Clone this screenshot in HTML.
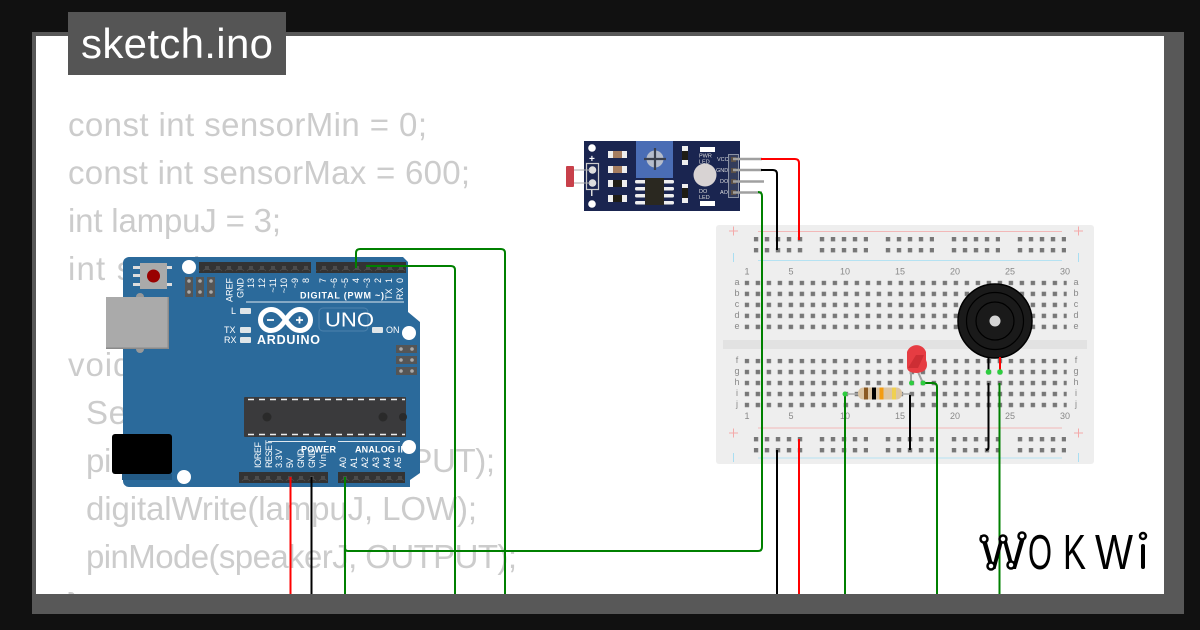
<!DOCTYPE html>
<html><head><meta charset="utf-8"><style>
html,body{margin:0;padding:0;background:#111;width:1200px;height:630px;overflow:hidden}
svg{display:block}
text{font-family:"Liberation Sans",sans-serif}
.c{font-size:33px;fill:#ccc}
.a{font-size:9px;fill:#fff;font-weight:bold}
.n{font-size:9px;fill:#fff}
.t{font-size:9px;fill:#fff;text-anchor:end}
.b{font-size:9px;fill:#888;text-anchor:middle}
.w{fill:none;stroke-width:2;stroke-linejoin:round}
.l{font-size:49px;fill:#000}
</style></head><body>
<svg width="1200" height="630" viewBox="0 0 1200 630" xmlns="http://www.w3.org/2000/svg">
<defs>
<pattern id="h" x="744.7" y="280.7" width="11" height="11" patternUnits="userSpaceOnUse"><rect x="0" y="0" width="4.400" height="4.400" fill="#777"/></pattern>
<pattern id="h2" x="744.7" y="358.8" width="11" height="11" patternUnits="userSpaceOnUse"><rect x="0" y="0" width="4.400" height="4.400" fill="#777"/></pattern>
<pattern id="r" x="753.8" y="237" width="11" height="11" patternUnits="userSpaceOnUse"><rect x="0" y="0" width="4.400" height="4.400" fill="#777"/></pattern>
<pattern id="r2" x="753.8" y="437" width="11" height="11" patternUnits="userSpaceOnUse"><rect x="0" y="0" width="4.400" height="4.400" fill="#777"/></pattern>
<pattern id="p1" x="300" y="262" width="11" height="11" patternUnits="userSpaceOnUse"><rect x="4" y="4" width="4" height="4" fill="#4c4c4c"/><path d="M2 9L4 7M10 9L8 7" stroke="#4c4c4c" stroke-width=".8"/></pattern>
<pattern id="p2" x="318" y="262" width="11" height="11" patternUnits="userSpaceOnUse"><rect x="4" y="4" width="4" height="4" fill="#4c4c4c"/><path d="M2 9L4 7M10 9L8 7" stroke="#4c4c4c" stroke-width=".8"/></pattern>
<pattern id="p3" x="284" y="472" width="11" height="11" patternUnits="userSpaceOnUse"><rect x="4" y="4" width="4" height="4" fill="#4c4c4c"/><path d="M2 9L4 7M10 9L8 7" stroke="#4c4c4c" stroke-width=".8"/></pattern>
<pattern id="p4" x="339" y="472" width="11" height="11" patternUnits="userSpaceOnUse"><rect x="4" y="4" width="4" height="4" fill="#4c4c4c"/><path d="M2 9L4 7M10 9L8 7" stroke="#4c4c4c" stroke-width=".8"/></pattern>
<clipPath id="cl"><rect x="36" y="36" width="1128" height="558"/></clipPath>
</defs>
<rect width="1200" height="630" fill="#111"/>
<rect x="32" y="32" width="1152" height="582" fill="#585858"/>
<rect x="36" y="36" width="1128" height="558" fill="#fff"/>
<rect x="68" y="12" width="218" height="63" fill="#555"/>
<text x="81" y="58" font-size="42" fill="#fff" textLength="192" lengthAdjust="spacing">sketch.ino</text>
<g clip-path="url(#cl)">
<text class="c" x="68" y="136" textLength="359">const int sensorMin = 0;</text>
<text class="c" x="68" y="184" textLength="402">const int sensorMax = 600;</text>
<text class="c" x="68" y="232" textLength="213">int lampuJ = 3;</text>
<text class="c" x="68" y="280" textLength="262">int speakerJ = 5;</text>
<text class="c" x="68" y="376" textLength="205">void setup() {</text>
<text class="c" x="86" y="424" textLength="290">Serial.begin(9600);</text>
<text class="c" x="86" y="472" textLength="409">pinMode(lampuJ, OUTPUT);</text>
<text class="c" x="86" y="520" textLength="391">digitalWrite(lampuJ, LOW);</text>
<text class="c" x="86" y="568" textLength="431">pinMode(speakerJ, OUTPUT);</text>
<text class="c" x="68" y="616">}</text>

<!-- Breadboard -->
<rect x="716" y="225" width="378" height="239" rx="3" fill="#eee"/>
<rect x="723" y="340" width="364" height="9" fill="#e2e2e2"/>
<rect x="744.7" y="280.7" width="322" height="49" fill="url(#h)"/>
<rect x="744.7" y="358.8" width="322" height="49" fill="url(#h2)"/>
<g fill="url(#r)">
<rect x="753.8" y="237" width="49" height="16"/><rect x="819" y="237" width="49" height="16"/><rect x="885" y="237" width="49" height="16"/><rect x="951" y="237" width="49" height="16"/><rect x="1017" y="237" width="49" height="16"/>
</g>
<g fill="url(#r2)">
<rect x="753.8" y="437" width="49" height="16"/><rect x="819" y="437" width="49" height="16"/><rect x="885" y="437" width="49" height="16"/><rect x="951" y="437" width="49" height="16"/><rect x="1017" y="437" width="49" height="16"/>
</g>
<g stroke-width="1">
<path d="M758 231.500H1062M758 428H1062" stroke="#f2b8b8"/>
<path d="M758 260.500H1062M758 458H1062" stroke="#b5e2f2"/>
<path d="M729 231H738M733.500 226.500V235.500M1074 231H1083M1078.500 226.500V235.500M729 433H738M733.500 428.500V437.500M1074 433H1083M1078.500 428.500V437.500" stroke="#f4a9a9"/>
<path d="M733.500 253V262M1078.500 253V262M733.500 453V462M1078.500 453V462" stroke="#a9def2"/>
</g>
<g>
<text class="b" x="747" y="274.500">1</text><text class="b" x="791" y="274.500">5</text><text class="b" x="845" y="274.500">10</text><text class="b" x="900" y="274.500">15</text><text class="b" x="955" y="274.500">20</text><text class="b" x="1010" y="274.500">25</text><text class="b" x="1065" y="274.500">30</text>
<text class="b" x="747" y="419">1</text><text class="b" x="791" y="419">5</text><text class="b" x="845" y="419">10</text><text class="b" x="900" y="419">15</text><text class="b" x="955" y="419">20</text><text class="b" x="1010" y="419">25</text><text class="b" x="1065" y="419">30</text>
<text class="b" x="737" y="285">a</text><text class="b" x="737" y="296">b</text><text class="b" x="737" y="307">c</text><text class="b" x="737" y="318">d</text><text class="b" x="737" y="329">e</text>
<text class="b" x="737" y="363">f</text><text class="b" x="737" y="374">g</text><text class="b" x="737" y="385">h</text><text class="b" x="737" y="396">i</text><text class="b" x="737" y="407">j</text>
<text class="b" x="1076" y="285">a</text><text class="b" x="1076" y="296">b</text><text class="b" x="1076" y="307">c</text><text class="b" x="1076" y="318">d</text><text class="b" x="1076" y="329">e</text>
<text class="b" x="1076" y="363">f</text><text class="b" x="1076" y="374">g</text><text class="b" x="1076" y="385">h</text><text class="b" x="1076" y="396">i</text><text class="b" x="1076" y="407">j</text>
</g>

<!-- Arduino -->
<path d="M123 263a6 6 0 0 1 6-6H403L408 262V312L420 322V473L410 480V487H129a6 6 0 0 1-6-6Z" fill="#2b6a9b"/>
<circle cx="140" cy="297" r="4" fill="#999"/><circle cx="140" cy="349" r="4" fill="#999"/>
<rect x="106" y="297" width="63" height="52" fill="#aaa"/>
<path d="M167.500 297h1.500v52H106v-1.500h61.500z" fill="#8a8a8a"/>
<rect x="133" y="266" width="8" height="3" fill="#ddd"/><rect x="133" y="274" width="8" height="3" fill="#ddd"/><rect x="133" y="283" width="8" height="3" fill="#ddd"/>
<rect x="166" y="266" width="6" height="3" fill="#ddd"/><rect x="166" y="283" width="6" height="3" fill="#ddd"/>
<rect x="140" y="263" width="27" height="26" fill="#aaa"/>
<circle cx="153.500" cy="276" r="6.500" fill="#990000"/>
<circle cx="189" cy="267" r="7" fill="#fff"/>
<circle cx="409" cy="333" r="7" fill="#fff"/>
<circle cx="409" cy="447" r="7" fill="#fff"/>
<circle cx="184" cy="477" r="7" fill="#fff"/>
<rect x="122" y="474" width="50" height="6" fill="#235a85"/>
<rect x="112" y="434" width="60" height="40" rx="3" fill="#000"/>
<rect x="199" y="262" width="112" height="11" fill="#333"/><rect x="199" y="262" width="112" height="11" fill="url(#p1)"/>
<rect x="316" y="262" width="90" height="11" fill="#333"/><rect x="316" y="262" width="90" height="11" fill="url(#p2)"/>
<rect x="239" y="472" width="89" height="11" fill="#333"/><rect x="239" y="472" width="89" height="11" fill="url(#p3)"/>
<rect x="338" y="472" width="67" height="11" fill="#333"/><rect x="338" y="472" width="67" height="11" fill="url(#p4)"/>
<g fill="#555"><rect x="185" y="277" width="8" height="20"/><rect x="196" y="277" width="8" height="20"/><rect x="207" y="277" width="8" height="20"/>
<rect x="396" y="345" width="21" height="8"/><rect x="396" y="356" width="21" height="8"/><rect x="396" y="367" width="21" height="8"/></g>
<g fill="#aaa"><circle cx="189" cy="281" r="1.800"/><circle cx="200" cy="281" r="1.800"/><circle cx="211" cy="281" r="1.800"/><circle cx="189" cy="292" r="1.800"/><circle cx="200" cy="292" r="1.800"/><circle cx="211" cy="292" r="1.800"/>
<circle cx="401" cy="349" r="1.800"/><circle cx="412" cy="349" r="1.800"/><circle cx="401" cy="360" r="1.800"/><circle cx="412" cy="360" r="1.800"/><circle cx="401" cy="371" r="1.800"/><circle cx="412" cy="371" r="1.800"/></g>
<rect x="244" y="397" width="162" height="40" rx="1" fill="#3a3a3c"/>
<path d="M248 399.500H405M248 434.500H405" stroke="#eee" stroke-width="1.500" stroke-dasharray="6 5" fill="none"/>
<circle cx="267" cy="417" r="4.500" fill="#2a2a2a"/><circle cx="383" cy="417" r="4.500" fill="#2a2a2a"/><circle cx="403" cy="417" r="4" fill="#2a2a2a"/>
<path d="M246 302H404" stroke="#dfe8ef" stroke-width="1"/>
<text x="300" y="298.500" class="a" textLength="84">DIGITAL (PWM ~)</text>
<path d="M268 441.500H326M338 441.500H400" stroke="#dfe8ef" stroke-width="1"/>
<text x="301" y="452.500" class="a" textLength="35">POWER</text>
<text x="355" y="452.500" class="a" textLength="52">ANALOG IN</text>

<text transform="translate(232.500,278) rotate(-90)" class="t">AREF</text>
<text transform="translate(243.500,278) rotate(-90)" class="t">GND</text>
<text transform="translate(254,278) rotate(-90)" class="t">13</text>
<text transform="translate(265,278) rotate(-90)" class="t">12</text>
<text transform="translate(276,278) rotate(-90)" class="t">~11</text>
<text transform="translate(287,278) rotate(-90)" class="t">~10</text>
<text transform="translate(298,278) rotate(-90)" class="t">~9</text>
<text transform="translate(309,278) rotate(-90)" class="t">8</text>
<text transform="translate(326,278) rotate(-90)" class="t">7</text>
<text transform="translate(337,278) rotate(-90)" class="t">~6</text>
<text transform="translate(348,278) rotate(-90)" class="t">~5</text>
<text transform="translate(359,278) rotate(-90)" class="t">4</text>
<text transform="translate(370,278) rotate(-90)" class="t">~3</text>
<text transform="translate(381,278) rotate(-90)" class="t">2</text>
<text transform="translate(392,278) rotate(-90)" class="t">1</text>
<text transform="translate(403,278) rotate(-90)" class="t">0</text>
<text transform="translate(392,300) rotate(-90)" class="n">TX</text>
<text transform="translate(403,300) rotate(-90)" class="n">RX</text>
<text transform="translate(261,468) rotate(-90)" class="n" textLength="26">IOREF</text>
<text transform="translate(272,468) rotate(-90)" class="n" textLength="28">RESET</text>
<text transform="translate(282,468) rotate(-90)" class="n" textLength="19">3.3V</text>
<text transform="translate(293,468) rotate(-90)" class="n" textLength="10">5V</text>
<text transform="translate(304,468) rotate(-90)" class="n" textLength="19">GND</text>
<text transform="translate(315,468) rotate(-90)" class="n" textLength="19">GND</text>
<text transform="translate(326,468) rotate(-90)" class="n" textLength="14">Vin</text>
<text transform="translate(346,468) rotate(-90)" class="n">A0</text>
<text transform="translate(357,468) rotate(-90)" class="n">A1</text>
<text transform="translate(368,468) rotate(-90)" class="n">A2</text>
<text transform="translate(379,468) rotate(-90)" class="n">A3</text>
<text transform="translate(390,468) rotate(-90)" class="n">A4</text>
<text transform="translate(401,468) rotate(-90)" class="n">A5</text>
<text x="231" y="314" class="n">L</text>
<text x="224" y="333" class="n">TX</text>
<text x="224" y="343" class="n">RX</text>
<text x="386" y="333" class="n">ON</text>
<g fill="#dfe5e8"><rect x="240" y="308" width="11" height="6" rx="1"/><rect x="240" y="327" width="11" height="6" rx="1"/><rect x="240" y="337" width="11" height="6" rx="1"/><rect x="372" y="327" width="11" height="6" rx="1"/></g>
<path d="M285.500 320C280 312 276 309.500 271 309.500a10.500 10.500 0 0 0 0 21C276 330.500 280 328 285.500 320C291 312 295 309.500 300 309.500a10.500 10.500 0 0 1 0 21C295 330.500 291 328 285.500 320Z" fill="none" stroke="#fff" stroke-width="5"/>
<path d="M267 320h7M296 320h7M299.500 316.500v7" stroke="#fff" stroke-width="1.800" fill="none"/>
<text x="257" y="344" class="a" style="font-size:12.500px" textLength="63">ARDUINO</text>
<rect x="319" y="308" width="49" height="23" rx="4" fill="none" stroke="#4c82ad" stroke-width="1"/>
<text x="325" y="326.500" font-size="20" fill="#fff" textLength="49" lengthAdjust="spacingAndGlyphs">UNO</text>

<!-- Sensor -->
<rect x="584" y="141" width="156" height="70" fill="#1a2550"/>
<circle cx="592" cy="148" r="3.800" fill="#fff"/><circle cx="592" cy="204" r="3.800" fill="#fff"/>
<text x="589" y="162" font-size="10" font-weight="bold" fill="#fff">+</text>
<rect x="591" y="190" width="1.500" height="6" fill="#ddd"/>
<rect x="586.500" y="163.500" width="12" height="26" fill="none" stroke="#ccc" stroke-width="1.200"/>
<circle cx="592.500" cy="170" r="3.800" fill="#ddd"/><circle cx="592.500" cy="183" r="3.800" fill="#ddd"/>
<path d="M566 170H590M566 183H590" stroke="#aaa" stroke-width="1"/>
<rect x="566" y="166" width="8" height="21" rx="1" fill="#c8404a"/>
<rect x="608" y="151" width="19" height="7" fill="#eee"/><rect x="613" y="151" width="9" height="7" fill="#a57d60"/>
<rect x="608" y="166" width="19" height="7" fill="#eee"/><rect x="613" y="166" width="9" height="7" fill="#a57d60"/>
<rect x="608" y="180" width="19" height="7" fill="#eee"/><rect x="613" y="180" width="9" height="7" fill="#1f1d15"/>
<rect x="608" y="195" width="19" height="7" fill="#eee"/><rect x="613" y="195" width="9" height="7" fill="#1f1d15"/>
<rect x="636" y="141" width="37" height="37" fill="#4a6db5"/>
<circle cx="655" cy="159" r="8.500" fill="#b5bccb"/>
<path d="M644 159H666M655 148V170" stroke="#3a3f4c" stroke-width="2.200"/>
<g fill="#eee"><rect x="635" y="180" width="11" height="3.500" rx="1.500"/><rect x="635" y="187" width="11" height="3.500" rx="1.500"/><rect x="635" y="194" width="11" height="3.500" rx="1.500"/><rect x="635" y="201" width="11" height="3.500" rx="1.500"/>
<rect x="663" y="180" width="11" height="3.500" rx="1.500"/><rect x="663" y="187" width="11" height="3.500" rx="1.500"/><rect x="663" y="194" width="11" height="3.500" rx="1.500"/><rect x="663" y="201" width="11" height="3.500" rx="1.500"/></g>
<rect x="645" y="178" width="19" height="27" fill="#2a2820"/>
<rect x="682" y="146" width="6" height="19" fill="#eee"/><rect x="682" y="151" width="6" height="9" fill="#1f1d15"/>
<rect x="682" y="184" width="6" height="19" fill="#eee"/><rect x="682" y="188" width="6" height="10" fill="#1f1d15"/>
<rect x="700" y="147" width="15" height="5" fill="#fff"/><rect x="700" y="201" width="15" height="5" fill="#fff"/>
<circle cx="705" cy="175" r="11.500" fill="#d8d3d3"/>
<g font-size="5.500" fill="#ddd"><text x="699" y="157.500">PWR</text><text x="699" y="163.500">LED</text><text x="699" y="193">DO</text><text x="699" y="199">LED</text>
<text x="717" y="161">VCC</text><text x="716" y="172">GND</text><text x="720" y="183">DO</text><text x="720" y="194">AO</text></g>
<rect x="728.500" y="154.500" width="10" height="43" fill="#333c5c" stroke="#8b92a5" stroke-width="1"/>
<g fill="#5c5046"><rect x="731" y="157" width="5" height="5"/><rect x="731" y="168" width="5" height="5"/><rect x="731" y="179" width="5" height="5"/><rect x="731" y="190" width="5" height="5"/></g>
<path d="M733 159H762M733 170H762M733 181.500H764M733 192.500H762" stroke="#a0a0a0" stroke-width="2.500"/>

<!-- Wires -->
<path class="w" stroke="#008000" d="M356 268V253Q356 249 360 249H501Q505 249 505 253V594"/>
<path class="w" stroke="#008000" d="M366 266H451Q455 266 455 270V594"/>
<path class="w" stroke="#008000" d="M345 477V594"/>
<path class="w" stroke="#008000" d="M345 548Q345 551 348 551H758Q762 551 762 547V196Q762 192 758 192"/>
<path class="w" stroke="#f00" d="M290.500 477V594"/>
<path class="w" stroke="#000" d="M311.500 477V594"/>
<path class="w" stroke="#f00" d="M761 159H795Q799 159 799 163V240"/>
<path class="w" stroke="#000" d="M761 170H773Q777 170 777 174V250"/>
<path class="w" stroke="#000" d="M777 450V594"/>
<path class="w" stroke="#f00" d="M799 439V594"/>
<path class="w" stroke="#008000" d="M845 394V594"/>
<path class="w" stroke="#008000" d="M923 383H933Q937 383 937 387V594"/>
<path class="w" stroke="#000" d="M911 394H910V450"/>
<path class="w" stroke="#000" d="M988.500 383V447Q988.500 450 986 450"/>
<path class="w" stroke="#008000" d="M999.500 383V594"/>

<!-- Resistor -->
<path d="M845 394H860M900 394H911" stroke="#aaa" stroke-width="1.500"/>
<rect x="858" y="387.500" width="44" height="12" rx="5.500" fill="#dcc5a3"/>
<rect x="864" y="387.500" width="4" height="12" fill="#8b5a23"/><rect x="872" y="387.500" width="4" height="12" fill="#000"/><rect x="879.500" y="387.500" width="4" height="12" fill="#f39c12"/><rect x="892" y="387.500" width="4" height="12" fill="#f0d050"/>
<circle cx="845" cy="394" r="2.500" fill="#2ecc40"/>
<!-- LED -->
<path d="M911 370V383M918 372L923 383" stroke="#a0a0a0" stroke-width="2"/>
<path d="M907 364V352a10 10 0 0 1 19 0V360Q927 362 927 365Q927 372 917 373Q907 373 907 367Z" fill="#e63c42"/>
<path d="M916 355H924L918 368H908Z" fill="#c42a30" opacity=".75"/>
<circle cx="911.500" cy="383" r="2.500" fill="#2ecc40"/><circle cx="923" cy="383" r="2.500" fill="#2ecc40"/>
<!-- Buzzer -->
<circle cx="995" cy="321" r="37" fill="#1a1a1a" stroke="#000" stroke-width="1.500"/>
<circle cx="995" cy="321" r="28.500" fill="none" stroke="#000" stroke-width="1.200"/>
<circle cx="995" cy="321" r="19" fill="none" stroke="#000" stroke-width="1.200"/>
<circle cx="995" cy="321" r="5.500" fill="#d5d5d5"/>
<path d="M988.500 357V372" stroke="#000" stroke-width="2"/>
<path d="M1000 357V372" stroke="#f00" stroke-width="2"/>
<circle cx="988.500" cy="372" r="2.800" fill="#2ecc40"/><circle cx="1000" cy="372" r="2.800" fill="#2ecc40"/>
</g>
<!-- Wokwi logo -->
<text class="l" x="980" y="569" textLength="46" lengthAdjust="spacingAndGlyphs">W</text>
<text class="l" x="1028" y="569" textLength="24" lengthAdjust="spacingAndGlyphs">O</text>
<text class="l" x="1063" y="569" textLength="23" lengthAdjust="spacingAndGlyphs">K</text>
<text class="l" x="1095" y="569" textLength="38" lengthAdjust="spacingAndGlyphs">W</text>
<rect x="1141" y="544" width="4" height="25" rx="2" fill="#000"/>
<g fill="#fff" stroke="#000" stroke-width="2.500"><circle cx="984" cy="539" r="3.500"/><circle cx="1003" cy="539" r="3.500"/><circle cx="1022" cy="536" r="3.500"/><circle cx="991" cy="566" r="3.500"/><circle cx="1011" cy="565" r="3.500"/><circle cx="1143" cy="536" r="3"/></g>
</svg>
</body></html>
